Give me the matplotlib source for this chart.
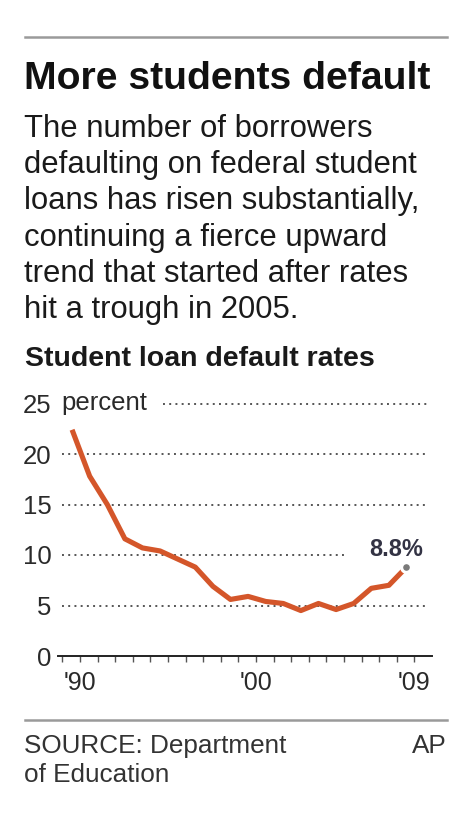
import numpy as np
import matplotlib.pyplot as plt

# data (fiscal years)
years = np.array([1990, 1991, 1992, 1993, 1994, 1995, 1996, 1997, 1998, 1999,
                  2000, 2001, 2002, 2003, 2004, 2005, 2006, 2007, 2008, 2009])
rates = np.array([22.4, 17.8, 15.0, 11.6, 10.7, 10.4, 9.6, 8.8, 6.9, 5.6,
                  5.9, 5.4, 5.2, 4.5, 5.2, 4.6, 5.2, 6.7, 7.0, 8.8])
grid_levels = [5, 10, 15, 20, 25]
tick_labels = {1990: "'90", 2000: "'00", 2009: "'09"}

title = "More students default"
body_lines = ["The number of borrowers",
              "defaulting on federal student",
              "loans has risen substantially,",
              "continuing a fierce upward",
              "trend that started after rates",
              "hit a trough in 2005."]
subtitle = "Student loan default rates"
source_lines = ["SOURCE: Department", "of Education"]
credit = "AP"

W, H = 474, 827
plt.rcParams['font.family'] = ['Liberation Sans', 'DejaVu Sans']
fig = plt.figure(figsize=(W / 100, H / 100), dpi=100)

def ftext(px, py, s, **kw):
    # place text by pixel position (py = baseline from top)
    return fig.text(px / W, 1 - py / H, s, va='baseline', **kw)

def rule(py):
    fig.add_artist(plt.Line2D([25 / W, 447 / W], [1 - py / H] * 2,
                              color='#9a9a9a', lw=1.8))

rule(37)
ftext(24, 89, title, fontsize=28.2, fontweight='bold', color='#111111')
for i, line in enumerate(body_lines):
    ftext(24, 137 + i * 36.2, line, fontsize=22.3, color='#1a1a1a')
ftext(25, 366, subtitle, fontsize=20.5, fontweight='bold', color='#1a1a1a')

# chart area: x 1988.75..2010 -> 58..432 px, y 0 at 656 px, 10.1 px per unit
x0, x1 = 1988.75, 2010.0
ymax = 25.5
ax = fig.add_axes([58 / W, (H - 656) / H, 374 / W, ymax * 10.1 / H])
ax.set_xlim(x0, x1)
ax.set_ylim(0, ymax)

for lvl in grid_levels:
    start, stop = 1989.0, 2009.7
    if lvl == 25:
        start = 1994.7
    if lvl == 10:
        stop = 2005.2
    ax.hlines(lvl, start, stop, colors='#555555', linestyles=(0, (1, 2.2)), lw=1.4)

xs = years - 0.45
ax.plot(xs, rates, color='#d4562a', lw=3.7, solid_capstyle='butt', clip_on=False, zorder=3)
ax.plot(xs[-1], rates[-1], 'o', ms=7, color='#7a7a7a', mec='white', mew=2.2,
        clip_on=False, zorder=4)
ax.text(xs[-1] - 0.6, rates[-1] + 1.1, "8.8%", ha='center', va='baseline',
        fontsize=17, fontweight='bold', color='#333344')

for s in ['top', 'left', 'right']:
    ax.spines[s].set_visible(False)
ax.spines['bottom'].set_color('#222222')
ax.spines['bottom'].set_linewidth(1.4)

ax.set_yticks(grid_levels[::-1] + [0])
ax.set_yticklabels([str(v) for v in grid_levels[::-1]] + ['0'])
ax.tick_params(axis='y', length=0, pad=4.5, labelsize=18.5, labelcolor='#2a2a2a')

tick_years = np.arange(1989, 2010)
ax.set_xticks(tick_years)
ax.set_xticklabels([tick_labels.get(y, '') for y in tick_years])
ax.tick_params(axis='x', length=4, width=1, color='#555555', pad=7,
               labelsize=18, labelcolor='#2a2a2a')

ftext(61, 410, "percent", fontsize=18.5, color='#2a2a2a')

rule(720)
ftext(24, 753, source_lines[0], fontsize=18.8, color='#333333')
ftext(24, 782, source_lines[1], fontsize=18.8, color='#333333')
ftext(447, 753, credit, fontsize=18.8, color='#333333', ha='right')

fig.savefig('out.png', dpi=100, facecolor='white')
